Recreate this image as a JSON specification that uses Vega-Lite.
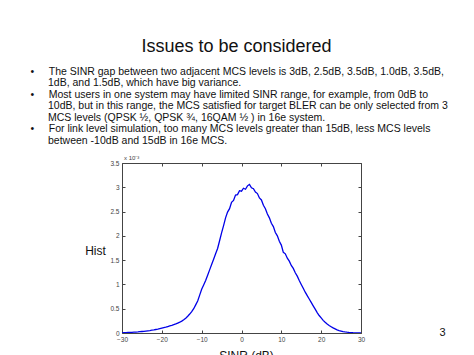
{
  "$schema": "https://vega.github.io/schema/vega-lite/v6.json",
  "width": 239,
  "height": 170,
  "autosize": {"type": "none"},
  "padding": {"left": 122, "top": 163, "right": 113, "bottom": 22},
  "background": "white",
  "config": {
    "font": "Liberation Sans",
    "view": {"stroke": "#444", "strokeWidth": 1}
  },
  "title": {
    "text": "Issues to be considered",
    "font": "Liberation Sans",
    "fontSize": 18,
    "fontWeight": "normal",
    "color": "#111",
    "anchor": "middle",
    "frame": "group",
    "dx": -5,
    "offset": 10
  },
  "data": {
    "values": [
      {"sinr": -30, "hist": 0.0}, {"sinr": -29.5, "hist": 0.005}, {"sinr": -29, "hist": 0.008},
      {"sinr": -28.5, "hist": 0.01}, {"sinr": -28, "hist": 0.012}, {"sinr": -27.5, "hist": 0.014},
      {"sinr": -27, "hist": 0.017}, {"sinr": -26.5, "hist": 0.02}, {"sinr": -26, "hist": 0.023},
      {"sinr": -25.5, "hist": 0.027}, {"sinr": -25, "hist": 0.031}, {"sinr": -24.5, "hist": 0.035},
      {"sinr": -24, "hist": 0.04}, {"sinr": -23.5, "hist": 0.045}, {"sinr": -23, "hist": 0.05},
      {"sinr": -22.5, "hist": 0.057}, {"sinr": -22, "hist": 0.064}, {"sinr": -21.5, "hist": 0.072},
      {"sinr": -21, "hist": 0.08}, {"sinr": -20.5, "hist": 0.09}, {"sinr": -20, "hist": 0.1},
      {"sinr": -19.5, "hist": 0.11}, {"sinr": -19, "hist": 0.12}, {"sinr": -18.5, "hist": 0.133},
      {"sinr": -18, "hist": 0.145}, {"sinr": -17.5, "hist": 0.158}, {"sinr": -17, "hist": 0.172},
      {"sinr": -16.5, "hist": 0.187}, {"sinr": -16, "hist": 0.205}, {"sinr": -15.5, "hist": 0.222},
      {"sinr": -15, "hist": 0.245}, {"sinr": -14.5, "hist": 0.272}, {"sinr": -14, "hist": 0.305},
      {"sinr": -13.5, "hist": 0.345}, {"sinr": -13, "hist": 0.39}, {"sinr": -12.5, "hist": 0.44},
      {"sinr": -12, "hist": 0.5}, {"sinr": -11.5, "hist": 0.58}, {"sinr": -11, "hist": 0.66},
      {"sinr": -10.5, "hist": 0.78}, {"sinr": -10, "hist": 0.9}, {"sinr": -9.5, "hist": 0.99},
      {"sinr": -9, "hist": 1.08}, {"sinr": -8.5, "hist": 1.19}, {"sinr": -8, "hist": 1.3},
      {"sinr": -7.5, "hist": 1.41}, {"sinr": -7, "hist": 1.52}, {"sinr": -6.5, "hist": 1.63},
      {"sinr": -6, "hist": 1.74}, {"sinr": -5.5, "hist": 1.9}, {"sinr": -5, "hist": 2.06},
      {"sinr": -4.5, "hist": 2.21}, {"sinr": -4, "hist": 2.37}, {"sinr": -3.5, "hist": 2.49},
      {"sinr": -3, "hist": 2.56}, {"sinr": -2.5, "hist": 2.69}, {"sinr": -2, "hist": 2.73},
      {"sinr": -1.5, "hist": 2.84}, {"sinr": -1, "hist": 2.85}, {"sinr": -0.5, "hist": 2.93},
      {"sinr": 0, "hist": 2.92}, {"sinr": 0.5, "hist": 2.98}, {"sinr": 1, "hist": 2.96},
      {"sinr": 1.5, "hist": 3.03}, {"sinr": 2, "hist": 3.06}, {"sinr": 2.5, "hist": 2.99},
      {"sinr": 3, "hist": 2.97}, {"sinr": 3.5, "hist": 2.9}, {"sinr": 4, "hist": 2.87},
      {"sinr": 4.5, "hist": 2.78}, {"sinr": 5, "hist": 2.74}, {"sinr": 5.5, "hist": 2.63},
      {"sinr": 6, "hist": 2.56}, {"sinr": 6.5, "hist": 2.45}, {"sinr": 7, "hist": 2.37},
      {"sinr": 7.5, "hist": 2.26}, {"sinr": 8, "hist": 2.19}, {"sinr": 8.5, "hist": 2.07},
      {"sinr": 9, "hist": 2.0}, {"sinr": 9.5, "hist": 1.89}, {"sinr": 10, "hist": 1.81},
      {"sinr": 10.5, "hist": 1.66}, {"sinr": 11, "hist": 1.63}, {"sinr": 11.5, "hist": 1.54},
      {"sinr": 12, "hist": 1.48}, {"sinr": 12.5, "hist": 1.39}, {"sinr": 13, "hist": 1.33},
      {"sinr": 13.5, "hist": 1.24}, {"sinr": 14, "hist": 1.17}, {"sinr": 14.5, "hist": 1.08},
      {"sinr": 15, "hist": 1.0}, {"sinr": 15.5, "hist": 0.92}, {"sinr": 16, "hist": 0.84},
      {"sinr": 16.5, "hist": 0.77}, {"sinr": 17, "hist": 0.7}, {"sinr": 17.5, "hist": 0.63},
      {"sinr": 18, "hist": 0.56}, {"sinr": 18.5, "hist": 0.49}, {"sinr": 19, "hist": 0.42},
      {"sinr": 19.5, "hist": 0.36}, {"sinr": 20, "hist": 0.31}, {"sinr": 20.5, "hist": 0.26},
      {"sinr": 21, "hist": 0.22}, {"sinr": 21.5, "hist": 0.185}, {"sinr": 22, "hist": 0.155},
      {"sinr": 22.5, "hist": 0.13}, {"sinr": 23, "hist": 0.105}, {"sinr": 23.5, "hist": 0.085},
      {"sinr": 24, "hist": 0.065}, {"sinr": 24.5, "hist": 0.05}, {"sinr": 25, "hist": 0.04},
      {"sinr": 25.5, "hist": 0.03}, {"sinr": 26, "hist": 0.022}, {"sinr": 26.5, "hist": 0.016},
      {"sinr": 27, "hist": 0.011}, {"sinr": 27.5, "hist": 0.008}, {"sinr": 28, "hist": 0.005},
      {"sinr": 28.5, "hist": 0.003}, {"sinr": 29, "hist": 0.002}, {"sinr": 29.5, "hist": 0.001},
      {"sinr": 30, "hist": 0.0}
    ]
  },
  "layer": [
    {
      "mark": {"type": "line", "color": "#0000e8", "strokeWidth": 1.3, "clip": true},
      "encoding": {
        "x": {
          "field": "sinr", "type": "quantitative",
          "scale": {"domain": [-30, 30], "nice": false, "zero": false},
          "axis": {
            "orient": "bottom", "values": [-30, -20, -10, 0, 10, 20, 30],
            "grid": false, "domain": false, "tickSize": -3, "tickColor": "#444",
            "labelFontSize": 6.5, "labelColor": "#444", "labelPadding": 6, "labelFlush": false,
            "title": "SINR (dB)", "titleFontSize": 12, "titleFontWeight": "normal", "titleColor": "#111",
            "titleX": 124, "titleY": 26, "titleBaseline": "alphabetic", "titleAlign": "center"
          }
        },
        "y": {
          "field": "hist", "type": "quantitative",
          "scale": {"domain": [0, 3.5], "nice": false},
          "axis": {
            "orient": "left", "values": [0, 0.5, 1, 1.5, 2, 2.5, 3, 3.5], "format": "~g",
            "grid": false, "domain": false, "tickSize": -3, "tickColor": "#444",
            "labelFontSize": 6.5, "labelColor": "#444", "labelPadding": 6,
            "title": "Hist", "titleFontSize": 12, "titleFontWeight": "normal", "titleColor": "#111",
            "titleAngle": 0, "titleX": -27, "titleY": 87, "titleAlign": "center", "titleBaseline": "middle"
          }
        }
      }
    },
    {
      "mark": {"type": "line", "opacity": 0},
      "encoding": {
        "x": {
          "field": "sinr", "type": "quantitative",
          "axis": {
            "orient": "top", "values": [-30, -20, -10, 0, 10, 20, 30],
            "labels": false, "grid": false, "domain": false, "tickSize": -3, "tickColor": "#444",
            "title": [
              "•\u00a0\u00a0\u00a0\u00a0\u00a0The SINR gap between two adjacent MCS levels is 3dB, 2.5dB, 3.5dB, 1.0dB, 3.5dB,",
              "\u200b\u00a0\u00a0\u00a0\u00a0\u00a0\u00a01dB, and 1.5dB, which have big variance.",
              "•\u00a0\u00a0\u00a0\u00a0\u00a0Most users in one system may have limited SINR range, for example, from 0dB to",
              "\u200b\u00a0\u00a0\u00a0\u00a0\u00a0\u00a010dB, but in this range, the MCS satisfied for target BLER can be only selected from 3",
              "\u200b\u00a0\u00a0\u00a0\u00a0\u00a0\u00a0MCS levels (QPSK ½, QPSK ¾, 16QAM ½ ) in 16e system.",
              "•\u00a0\u00a0\u00a0\u00a0\u00a0For link level simulation, too many MCS levels greater than 15dB, less MCS levels",
              "\u200b\u00a0\u00a0\u00a0\u00a0\u00a0\u00a0between -10dB and 15dB in 16e MCS."
            ],
            "titleFontSize": 10.5, "titleFontWeight": "normal", "titleColor": "#111",
            "titleLineHeight": 11.5, "titleX": -92, "titleY": -97,
            "titleAlign": "left", "titleBaseline": "top", "titleAngle": 0
          }
        },
        "y": {
          "field": "hist", "type": "quantitative",
          "axis": {
            "orient": "right", "values": [0, 0.5, 1, 1.5, 2, 2.5, 3, 3.5],
            "labels": false, "grid": false, "domain": false, "tickSize": -3, "tickColor": "#444",
            "title": "3", "titleFontSize": 11, "titleFontWeight": "normal", "titleColor": "#111",
            "titleAngle": 0, "titleX": 81, "titleY": 169, "titleAlign": "center", "titleBaseline": "middle"
          }
        }
      }
    },
    {
      "data": {"values": [{"sinr": -30, "hist": 3.5, "label": "x 10⁻³"}]},
      "mark": {"type": "text", "align": "left", "baseline": "bottom", "dx": 2, "dy": -2, "fontSize": 6, "color": "#444"},
      "encoding": {
        "x": {"field": "sinr", "type": "quantitative", "axis": null},
        "y": {"field": "hist", "type": "quantitative", "axis": null},
        "text": {"field": "label"}
      }
    }
  ],
  "resolve": {"axis": {"x": "independent", "y": "independent"}}
}
